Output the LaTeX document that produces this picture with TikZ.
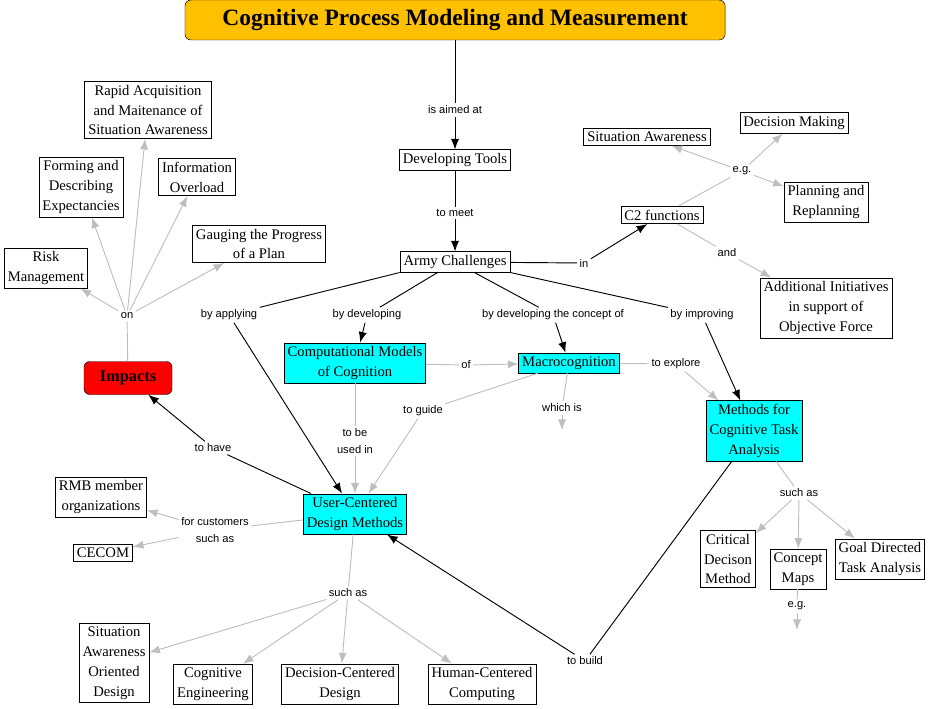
\documentclass[tikz,border=0pt]{standalone}
\usepackage{fontspec}
\setmainfont{Liberation Serif}
\newfontfamily\lblfont{Liberation Sans}
\usetikzlibrary{arrows.meta}
\definecolor{titleorange}{RGB}{255,192,0}
\definecolor{conceptcyan}{RGB}{0,255,255}
\definecolor{linkgrey}{RGB}{190,190,190}
\tikzset{
  concept/.style={draw, fill=white, line width=0.6pt, align=center, inner sep=3pt,
    font=\fontsize{12.5}{17}\selectfont},
  cyanconcept/.style={concept, fill=conceptcyan},
  phrase/.style={align=center, inner sep=2pt, fill=white, font=\lblfont\fontsize{9.5}{14}\selectfont},
  blk/.style={line width=0.8pt, black},
  blkarr/.style={blk, -{Latex[length=9pt,width=7pt]}},
  gry/.style={line width=0.8pt, linkgrey},
  gryarr/.style={gry, -{Latex[length=9pt,width=7pt]}}
}
\begin{document}
\begin{tikzpicture}[x=0.03cm, y=-0.03cm]
			%%%%% START %%%%%
			\useasboundingbox (0,0) rectangle (932,709);
			
			\node[draw, fill=titleorange, rounded corners=5pt, minimum width=16.2cm, minimum height=1.2cm,
			  font=\bfseries\fontsize{20}{24}\selectfont] (title) at (455,20) {Cognitive Process Modeling and Measurement};
			\node[concept] (dev) at (455,160) {Developing Tools};
			\node[concept] (army) at (455,262) {Army Challenges};
			\node[concept] (c2) at (662,215) {C2 functions};
			\node[concept] (sitaw) at (647,137) {Situation Awareness};
			\node[concept] (decmak) at (794,123) {Decision Making};
			\node[concept] (plan) at (826,202) {Planning and\\Replanning};
			\node[concept] (addl) at (826,308) {Additional Initiatives\\in support of\\Objective Force};
			
			\node[draw, fill=red, rounded corners=5pt, minimum width=88*0.03cm, minimum height=33*0.03cm,
			  font=\bfseries\fontsize{14}{17}\selectfont] (impacts) at (128,378) {Impacts};
			\node[concept] (risk) at (46,268) {Risk\\Management};
			\node[concept] (expect) at (81,187) {Forming and\\Describing\\Expectancies};
			\node[concept] (rapid) at (148,110) {Rapid Acquisition\\and Maitenance of\\Situation Awareness};
			\node[concept] (overload) at (197,177) {Information\\Overload};
			\node[concept] (gauge) at (259,244) {Gauging the Progress\\of a Plan};
			
			\node[cyanconcept] (cmc) at (355,363) {Computational Models\\of Cognition};
			\node[cyanconcept] (macro) at (569,363) {Macrocognition};
			\node[cyanconcept] (mcta) at (754,431) {Methods for\\Cognitive Task\\Analysis};
			\node[cyanconcept] (ucd) at (355,514) {User-Centered\\Design Methods};
			
			\node[concept] (rmb) at (101,497) {RMB member\\organizations};
			\node[concept] (cecom) at (103,553) {CECOM};
			\node[concept] (cdm) at (728,559) {Critical\\Decison\\Method};
			\node[concept] (cmaps) at (798,569) {Concept\\Maps};
			\node[concept] (gdta) at (880,559) {Goal Directed\\Task Analysis};
			\node[concept] (saod) at (114,663) {Situation\\Awareness\\Oriented\\Design};
			\node[concept] (coeng) at (213,684) {Cognitive\\Engineering};
			\node[concept] (dcd) at (340,684) {Decision-Centered\\Design};
			\node[concept] (hcc) at (482,684) {Human-Centered\\Computing};
			
			% linking phrases
			\node[phrase] (aimed) at (455,110) {is aimed at};
			\node[phrase] (meet) at (455,213) {to meet};
			\node[phrase] (in) at (584,263) {in};
			\node[phrase] (eg) at (742,171) {e.g.};
			\node[phrase] (and) at (727,253) {and};
			\node[phrase] (on) at (127,316) {on};
			\node[phrase] (apply) at (229,315) {by applying};
			\node[phrase] (develop) at (367,315) {by developing};
			\node[phrase] (concept) at (553,315) {by developing the concept of};
			\node[phrase] (improve) at (702,315) {by improving};
			\node[phrase] (of) at (466,365) {of};
			\node[phrase] (explore) at (676,364) {to explore};
			\node[phrase] (whichis) at (562,408) {which is};
			\node[phrase] (guide) at (423,411) {to guide};
			\node[phrase] (usedin) at (355,441) {to be\\used in};
			\node[phrase] (have) at (213,448) {to have};
			\node[phrase] (cust) at (215,530) {for customers\\such as};
			\node[phrase] (suchmcta) at (799,493) {such as};
			\node[phrase] (egmaps) at (797,606) {e.g.};
			\node[phrase] (suchucd) at (348,593) {such as};
			\node[phrase] (build) at (585,661) {to build};
			\coordinate (whichend) at (562,430);
			\coordinate (egend) at (797,630);
			
			% black links
			\draw[blk] (title) -- (aimed);
			\draw[blkarr] (aimed) -- (dev);
			\draw[blk] (dev) -- (meet);
			\draw[blkarr] (meet) -- (army);
			\draw[blk] (army) -- (in);
			\draw[blkarr] (in) -- (c2);
			\draw[blk] (army.south west) -- (apply);
			\draw[blkarr] (apply) -- (ucd);
			\draw[blk] (army) -- (develop);
			\draw[blkarr] (develop) -- (cmc);
			\draw[blk] (army) -- (concept);
			\draw[blkarr] (concept) -- (macro);
			\draw[blk] (army.south east) -- (improve);
			\draw[blkarr] (improve) -- (mcta);
			\draw[blk] (ucd) -- (have);
			\draw[blkarr] (have) -- (impacts);
			\draw[blk] (mcta) -- (build);
			\draw[blkarr] (build) -- (ucd);
			
			% grey links
			\draw[gry] (c2) -- (eg);
			\draw[gryarr] (eg) -- (sitaw);
			\draw[gryarr] (eg) -- (decmak);
			\draw[gryarr] (eg) -- (plan);
			\draw[gry] (c2) -- (and);
			\draw[gryarr] (and) -- (addl);
			\draw[gry] (impacts) -- (on);
			\draw[gryarr] (on) -- (risk);
			\draw[gryarr] (on) -- (expect);
			\draw[gryarr] (on) -- (rapid);
			\draw[gryarr] (on) -- (overload);
			\draw[gryarr] (on) -- (gauge);
			\draw[gry] (cmc) -- (of);
			\draw[gryarr] (of) -- (macro);
			\draw[gry] (macro) -- (explore);
			\draw[gryarr] (explore) -- (mcta);
			\draw[gry] (macro) -- (whichis);
			\draw[gryarr] (whichis) -- (whichend);
			\draw[gry] (macro) -- (guide);
			\draw[gryarr] (guide) -- (ucd);
			\draw[gry] (cmc) -- (usedin);
			\draw[gryarr] (usedin) -- (ucd);
			\draw[gry] (ucd) -- (cust);
			\draw[gryarr] (cust) -- (rmb);
			\draw[gryarr] (cust) -- (cecom);
			\draw[gry] (mcta) -- (suchmcta);
			\draw[gryarr] (suchmcta) -- (cdm);
			\draw[gryarr] (suchmcta) -- (cmaps);
			\draw[gryarr] (suchmcta) -- (gdta);
			\draw[gry] (cmaps) -- (egmaps);
			\draw[gryarr] (egmaps) -- (egend);
			\draw[gry] (ucd) -- (suchucd);
			\draw[gryarr] (suchucd) -- (saod);
			\draw[gryarr] (suchucd) -- (coeng);
			\draw[gryarr] (suchucd) -- (dcd);
			\draw[gryarr] (suchucd) -- (hcc);
			%%%%% END %%%%%
\end{tikzpicture}
\end{document}
